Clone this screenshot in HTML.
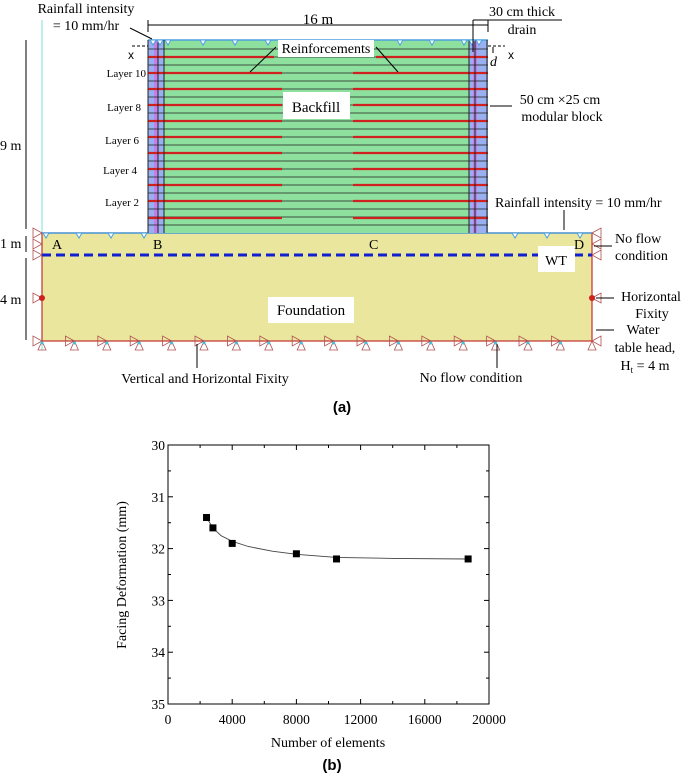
<!DOCTYPE html>
<html><head><meta charset="utf-8"><style>
body{margin:0;background:#fff;width:685px;height:774px;overflow:hidden}
svg{display:block;font-family:"Liberation Serif",serif}
</style></head><body>
<svg width="685" height="774" viewBox="0 0 685 774">
<g id="diagram">
 <line x1="42" y1="20" x2="42" y2="350" stroke="#7fe0d8" stroke-width="1"/>
 <rect x="42" y="233" width="550" height="108" fill="#ebe69e" stroke="#c03030" stroke-width="1.2"/>
 <line x1="42" y1="233" x2="592" y2="233" stroke="#4aa0e0" stroke-width="1.5"/>
 <line x1="42" y1="255" x2="592" y2="255" stroke="#1020d0" stroke-width="3" stroke-dasharray="9,5"/>
 <rect x="164" y="40" width="305" height="193" fill="#8ee09e"/>
 <rect x="148" y="40" width="16" height="193" fill="#98b0f0"/>
 <rect x="154" y="40" width="4" height="193" fill="#c080e8"/>
 <rect x="469" y="40" width="19" height="193" fill="#98b0f0"/>
 <rect x="473" y="40" width="4" height="193" fill="#c080e8"/>
 <g id="hlines"></g>
 <line x1="148" y1="40" x2="488" y2="40" stroke="#4aa0e0" stroke-width="1.5"/>
 <g stroke="#222" stroke-width="1" fill="none">
  <line x1="148" y1="40" x2="148" y2="233"/><line x1="158" y1="40" x2="158" y2="233"/><line x1="164" y1="40" x2="164" y2="233"/>
  <line x1="469" y1="40" x2="469" y2="233"/><line x1="475" y1="40" x2="475" y2="233"/><line x1="487" y1="40" x2="487" y2="233"/>
 </g>
 <g id="tri" fill="#fff" stroke="#4aa0e0" stroke-width="1"></g>
 <g id="supports" stroke="#b05050" stroke-width="0.8" fill="none"></g>
 <rect x="278" y="40" width="96" height="17" fill="#fff"/>
 <text x="326" y="53" font-size="14" text-anchor="middle">Reinforcements</text>
 <rect x="283" y="92" width="67" height="27" fill="#fff"/>
 <text x="316" y="112" font-size="15" text-anchor="middle">Backfill</text>
 <rect x="268" y="297" width="86" height="26" fill="#fff"/>
 <text x="311" y="315" font-size="15" text-anchor="middle">Foundation</text>
 <rect x="538" y="246" width="37" height="26" fill="#fff"/>
 <text x="556" y="265" font-size="14" text-anchor="middle">WT</text>
 <g font-size="11" text-anchor="end">
  <text x="146" y="77">Layer 10</text><text x="141" y="111">Layer 8</text><text x="139" y="144">Layer 6</text><text x="137" y="174">Layer 4</text><text x="139" y="206">Layer 2</text>
 </g>
 <g font-size="14">
  <text x="52" y="249">A</text><text x="153" y="249">B</text><text x="369" y="249">C</text><text x="574" y="249">D</text>
  <text x="86" y="13" text-anchor="middle">Rainfall intensity</text>
  <text x="86" y="30" text-anchor="middle">= 10 mm/hr</text>
  <text x="318" y="24" text-anchor="middle" font-size="15">16 m</text>
  <text x="522" y="16" text-anchor="middle">30 cm thick</text>
  <text x="522" y="34" text-anchor="middle">drain</text>
  <text x="560" y="104" text-anchor="middle">50 cm ×25 cm</text>
  <text x="562" y="121" text-anchor="middle">modular block</text>
  <text x="495" y="207">Rainfall intensity = 10 mm/hr</text>
  <text x="615" y="243">No flow</text><text x="615" y="260">condition</text>
  <text x="651" y="301" text-anchor="middle">Horizontal</text><text x="652" y="318" text-anchor="middle">Fixity</text>
  <text x="643" y="334" text-anchor="middle">Water</text><text x="645" y="352" text-anchor="middle">table head,</text><text x="645" y="370" text-anchor="middle">H<tspan font-size="9" dy="3">t</tspan><tspan dy="-3"> = 4 m</tspan></text>
  <text x="205" y="383" text-anchor="middle">Vertical and Horizontal Fixity</text>
  <text x="471" y="382" text-anchor="middle">No flow condition</text>
  <text x="0" y="150">9 m</text><text x="0" y="248">1 m</text><text x="0" y="304">4 m</text>
  <text x="128" y="59" font-family="Liberation Sans" font-size="12">x</text>
  <text x="508" y="59" font-family="Liberation Sans" font-size="12">x</text>
  <text x="490" y="66" font-style="italic">d</text>
 </g>
 <g stroke="#000" stroke-width="1" fill="none">
  <line x1="26" y1="40" x2="26" y2="229"/><line x1="26" y1="236" x2="26" y2="252"/><line x1="26" y1="258" x2="26" y2="340"/>
  <line x1="148" y1="25" x2="488" y2="25"/><line x1="148" y1="20" x2="148" y2="32"/><line x1="488" y1="20" x2="488" y2="32"/>
  <line x1="132" y1="46" x2="148" y2="46" stroke-dasharray="3,2"/><line x1="488" y1="46" x2="505" y2="46" stroke-dasharray="3,2"/>
  <line x1="130" y1="28" x2="152" y2="39"/><line x1="473" y1="20" x2="562" y2="20"/><line x1="473" y1="20" x2="473" y2="52"/>
  <line x1="276" y1="47" x2="250" y2="72"/><line x1="376" y1="47" x2="398" y2="72"/>
  <line x1="512" y1="106" x2="490" y2="106"/><line x1="564" y1="210" x2="564" y2="230"/>
  <line x1="612" y1="246" x2="594" y2="246"/><line x1="614" y1="298" x2="596" y2="298"/><line x1="614" y1="330" x2="596" y2="330"/>
  <line x1="197" y1="368" x2="197" y2="344"/><line x1="497" y1="368" x2="497" y2="344"/>
  <line x1="493" y1="47" x2="493" y2="53"/>
 </g>
</g>
<text x="342" y="412" font-family="Liberation Sans" font-size="15" font-weight="bold" text-anchor="middle">(a)</text>

<g id="chart">
 <rect x="168" y="445" width="321" height="259" fill="none" stroke="#000" stroke-width="1"/>
 <g id="xt" font-size="13.5" text-anchor="middle"></g>
 <g id="yt" font-size="13.5" text-anchor="end"></g>
 <path id="fit" fill="none" stroke="#444" stroke-width="0.9"/>
 <g id="pts"></g>
 <text x="328" y="747" font-size="14" text-anchor="middle">Number of elements</text>
 <text transform="translate(126,575) rotate(-90)" font-size="14" text-anchor="middle">Facing Deformation (mm)</text>
</g>
<text x="332" y="770" font-family="Liberation Sans" font-size="15" font-weight="bold" text-anchor="middle">(b)</text>
</svg>
<script>
const elements=[2400,2800,4000,8000,10500,18700];
const deformation=[31.4,31.6,31.9,32.1,32.2,32.2];
const xTicks=[0,4000,8000,12000,16000,20000];
const yTicks=[30,31,32,33,34,35];
const fitX=[2400,2800,3300,4000,5000,6500,8000,10500,14000,18700];
const fitY=[31.4,31.6,31.75,31.86,31.96,32.05,32.11,32.17,32.19,32.2];
const NS='http://www.w3.org/2000/svg';
const sx=v=>168+v/20000*321, sy=v=>445+(v-30)/5*259;
function mk(t,a,p){const e=document.createElementNS(NS,t);for(const k in a)e.setAttribute(k,a[k]);p.appendChild(e);return e;}
const xt=document.getElementById('xt'),yt=document.getElementById('yt');
xTicks.forEach(v=>{const x=sx(v);
 mk('line',{x1:x,y1:704,x2:x,y2:699,stroke:'#000'},xt);mk('line',{x1:x,y1:445,x2:x,y2:450,stroke:'#000'},xt);
 const t=mk('text',{x:x,y:724},xt);t.textContent=v;
 
 });
for(let v=2000;v<20000;v+=4000){const x=sx(v);mk('line',{x1:x,y1:704,x2:x,y2:701,stroke:'#000'},xt);mk('line',{x1:x,y1:445,x2:x,y2:448,stroke:'#000'},xt);}
yTicks.forEach(v=>{const y=sy(v);
 mk('line',{x1:168,y1:y,x2:173,y2:y,stroke:'#000'},yt);mk('line',{x1:489,y1:y,x2:484,y2:y,stroke:'#000'},yt);
 const t=mk('text',{x:165,y:y+5},yt);t.textContent=v;
 
 
 if(v<35){const m=sy(v+0.5);mk('line',{x1:168,y1:m,x2:171,y2:m,stroke:'#000'},yt);mk('line',{x1:489,y1:m,x2:486,y2:m,stroke:'#000'},yt);}});
document.getElementById('fit').setAttribute('d',fitX.map((x,i)=>(i?'L':'M')+sx(x).toFixed(1)+' '+sy(fitY[i]).toFixed(1)).join(' '));
const pts=document.getElementById('pts');
elements.forEach((e,i)=>{const r=mk('rect',{x:sx(e)-3.5,y:sy(deformation[i])-3.5,width:7,height:7,fill:'#000'},pts);
 
 });
const hl=document.getElementById('hlines');
for(let y=49;y<233;y+=8){mk('line',{x1:148,y1:y,x2:488,y2:y,stroke:'#222','stroke-width':0.8},hl);}
const reds=[57,73,89,105,121,137,153,169,185,201,218];
reds.forEach((y,i)=>{mk('line',{x1:148,y1:y,x2:i==0?274:282,y2:y,stroke:'#d02020','stroke-width':2.2},hl);
 mk('line',{x1:i==0?376:353,y1:y,x2:488,y2:y,stroke:'#d02020','stroke-width':2.2},hl);});
const tri=document.getElementById('tri');
[153,160,168,203,235,268,400,432,464,472,479,46,79,111,144,515,547,580].forEach(x=>{const y=(x<148||x>488)?233:40;
 mk('path',{d:`M${x-3} ${y} L${x+3} ${y} L${x} ${y+5} Z`},tri);});
const sp=document.getElementById('supports');
for(let i=0;i<17;i++){const x=42+i*32.4;mk('path',{d:`M${x} 341 L${x-9} 336 L${x-9} 346 Z M${x} 341 L${x-4} 350 L${x+4} 350 Z`},sp);
 mk('circle',{cx:x,cy:343,r:1.5,fill:'#40c0e0',stroke:'none'},sp);}
mk('path',{d:'M592 341 L601 336 L601 346 Z M592 341 L588 350 L596 350 Z'},sp);
[233,244,255,298].forEach(y=>{mk('path',{d:`M42 ${y} L33 ${y-5} L33 ${y+5} Z M592 ${y} L601 ${y-5} L601 ${y+5} Z`},sp);});
mk('circle',{cx:42,cy:298,r:3,fill:'#d02020',stroke:'none'},sp);mk('circle',{cx:592,cy:298,r:3,fill:'#d02020',stroke:'none'},sp);
</script>
</body></html>
